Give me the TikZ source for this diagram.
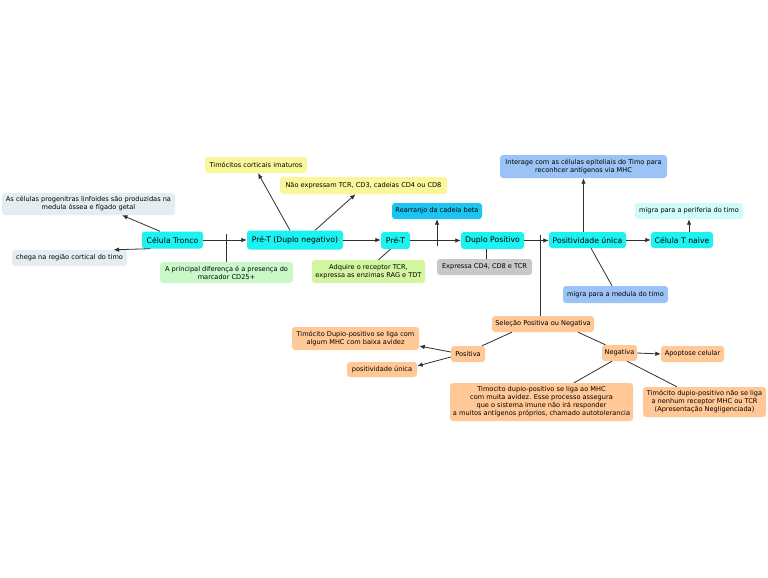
\documentclass[tikz,border=0pt]{standalone}
\usepackage{fontspec}
\setmainfont{DejaVu Sans}
\usetikzlibrary{arrows.meta,calc}
\definecolor{cyanc}{HTML}{1CF2F2}
\definecolor{deepb}{HTML}{1CC4F2}
\definecolor{softb}{HTML}{9CC3F5}
\definecolor{palec}{HTML}{CFFBFB}
\definecolor{greyb}{HTML}{E6EDF0}
\definecolor{mint}{HTML}{C9F8C9}
\definecolor{lime}{HTML}{D2F5A0}
\definecolor{yel}{HTML}{F9F79A}
\definecolor{midg}{HTML}{C8C8C8}
\definecolor{peach}{HTML}{FFC896}
\definecolor{linec}{HTML}{303030}
\tikzset{
  box/.style={rounded corners=3pt, inner sep=0pt, align=center,
    font=\fontsize{6.6}{8}\selectfont, text=black},
  mainbox/.style={box, fill=cyanc, font=\fontsize{7.7}{9}\selectfont},
  conn/.style={draw=linec, line width=0.8pt},
  arr/.style={conn, -{Latex[length=5.5pt,width=4.5pt]}},
}
\begin{document}
\begin{tikzpicture}[x=1pt,y=-1pt]
\path[use as bounding box, fill=white] (0,0) rectangle (768,578);

% main chain
\node[mainbox, minimum width=61pt, minimum height=17pt] (tronco) at (172.5,240) {Célula Tronco};
\node[mainbox, minimum width=96pt, minimum height=19pt] (dn) at (295,240) {Pré-T (Duplo negativo)};
\node[mainbox, minimum width=29pt, minimum height=17pt] (pret) at (395.5,240.5) {Pré-T};
\node[mainbox, minimum width=63pt, minimum height=17pt] (dp) at (492.5,240.5) {Duplo Positivo};
\node[mainbox, minimum width=77pt, minimum height=16pt] (pu) at (587.5,240) {Positividade única};
\node[mainbox, minimum width=62pt, minimum height=16pt] (naive) at (682,240) {Célula T naive};

% notes
\node[box, fill=greyb, minimum width=173pt, minimum height=22pt] (prog) at (88.5,204) {As células progenitras linfoides são produzidas na\\medula óssea e fígado getal};
\node[box, fill=greyb, minimum width=115pt, minimum height=16pt] (chega) at (69.5,258) {chega na região cortical do timo};
\node[box, fill=mint, minimum width=133pt, minimum height=21pt] (cd25) at (226.5,272.5) {A principal diferença é a presença do\\marcador CD25+};
\node[box, fill=yel, minimum width=102pt, minimum height=16pt] (tci) at (256,165) {Timócitos corticais imaturos};
\node[box, fill=yel, minimum width=167pt, minimum height=17pt] (nao) at (363.5,185.5) {Não expressam TCR, CD3, cadeias CD4 ou CD8};
\node[box, fill=deepb, minimum width=90pt, minimum height=16pt] (rear) at (437,211) {Rearranjo da cadeia beta};
\node[box, fill=lime, minimum width=113pt, minimum height=23pt] (adq) at (368.5,271.5) {Adquire o receptor TCR,\\expressa as enzimas RAG e TDT};
\node[box, fill=midg, minimum width=95pt, minimum height=16pt] (expr) at (484.5,267) {Expressa CD4, CD8 e TCR};
\node[box, fill=softb, minimum width=167pt, minimum height=23pt] (inter) at (583.5,166.5) {Interage com as células epiteliais do Timo para\\reconhcer antígenos via MHC};
\node[box, fill=softb, minimum width=105pt, minimum height=17pt] (medula) at (615.5,294.5) {migra para a medula do timo};
\node[box, fill=palec, minimum width=108pt, minimum height=16pt] (perif) at (689,211) {migra para a periferia do timo};

% selection
\node[box, fill=peach, minimum width=102pt, minimum height=16pt] (sel) at (543,324) {Seleção Positiva ou Negativa};
\node[box, fill=peach, minimum width=127pt, minimum height=23pt] (tbaixa) at (355.5,338.5) {Timócito Dupio-positivo se liga com\\algum MHC com baixa avidez};
\node[box, fill=peach, minimum width=34pt, minimum height=16pt] (positiva) at (468,354) {Positiva};
\node[box, fill=peach, minimum width=70pt, minimum height=15pt] (posu) at (382,369.5) {positividade única};
\node[box, fill=peach, minimum width=35pt, minimum height=16pt] (negativa) at (619.5,353) {Negativa};
\node[box, fill=peach, minimum width=63pt, minimum height=16pt] (apop) at (692.5,354) {Apoptose celular};
\node[box, fill=peach, minimum width=183pt, minimum height=38pt] (tmuita) at (541.5,402) {Timocito dupio-positivo se liga ao MHC\\com muita avidez. Esse processo assegura\\que o sistema imune não irá responder\\a muitos antígenos próprios, chamado autotolerancia};
\node[box, fill=peach, minimum width=123pt, minimum height=30pt] (tnao) at (704.5,402) {Timócito dupio-positivo não se liga\\a nenhum receptor MHC ou TCR\\(Apresentação Negligenciada)};

% connectors
\draw[arr] ([xshift=-12.5pt]tronco.north) -- ([xshift=33.5pt]prog.south);
\draw[arr] ([xshift=-22pt]tronco.south) -- ([xshift=44pt]chega.north);
\draw[arr] (tronco.east) -- (dn.west);
\draw[conn] (cd25.north) -- ++(0,-28);
\draw[arr] ([xshift=-5pt]dn.north) -- ([xshift=2pt]tci.south);
\draw[arr] ([xshift=20pt]dn.north) -- ([xshift=-8pt]nao.south);
\draw[arr] (dn.east) -- (dn.east -| pret.west);
\draw[conn] ([xshift=-5pt]pret.south) -- ([xshift=10pt]adq.north);
\draw[arr] (pret.east) -- (dp.west);
\draw[arr] ([yshift=-27pt]rear.south) -- (rear.south);
\draw[conn] ([xshift=-6pt]dp.south) -- ([xshift=-6pt]dp.south |- expr.north);
\draw[arr] (dp.east) -- (dp.east -| pu.west);
\draw[conn] ([xshift=-3pt]sel.north) -- ++(0,-81);
\draw[arr] ([xshift=-4pt]pu.north) -- (inter.south);
\draw[conn] ([xshift=3.5pt]pu.south) -- ([xshift=-3.5pt]medula.north);
\draw[arr] (pu.east) -- (naive.west);
\draw[arr] ([xshift=7pt]naive.north) -- (perif.south);
\draw[conn] ([xshift=-31pt]sel.south) -- ([xshift=14pt]positiva.north);
\draw[conn] ([xshift=35pt]sel.south) -- ([xshift=-14pt]negativa.north);
\draw[arr] ([yshift=2pt]positiva.west) -- ([yshift=-7.5pt]tbaixa.east);
\draw[arr] ([yshift=-3pt]positiva.west) -- ([yshift=3.5pt]posu.east);
\draw[arr] (negativa.east) -- (apop.west);
\draw[conn] ([xshift=-7.5pt]negativa.south) -- ([xshift=32.5pt]tmuita.north);
\draw[conn] ([xshift=7.5pt]negativa.south) -- ([xshift=-27.5pt]tnao.north);
\end{tikzpicture}
\end{document}
